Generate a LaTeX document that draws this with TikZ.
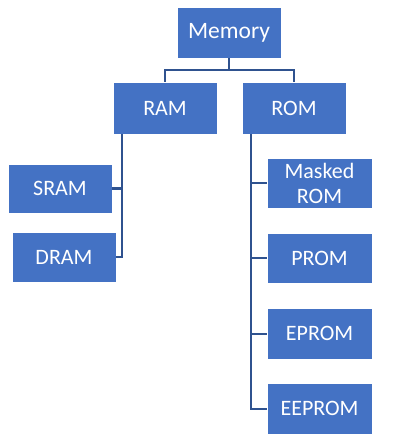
\documentclass[tikz,border=0pt]{standalone}
\usepackage{fontspec}
\setmainfont{Carlito}
\usetikzlibrary{positioning,calc}
\definecolor{boxblue}{RGB}{68,114,196}
\definecolor{lineblue}{RGB}{47,82,143}

\tikzset{
  membox/.style={
    draw=white, line width=0.75pt, fill=boxblue,
    text=white, inner sep=0pt, align=center,
    minimum width=104pt, minimum height=51pt,
    font=\fontsize{22}{25}\selectfont
  },
  tree/.style={draw=lineblue, line width=2pt}
}

\begin{document}
\begin{tikzpicture}[x=1pt,y=-1pt]

% Canvas
\useasboundingbox (0,0) rectangle (400,438);

% Top level
\node[membox, font=\fontsize{23.5}{27}\selectfont] (mem) at (229,32.5) {Memory};

% Second level
\node[membox, minimum height=52pt] (ram) at (165,108) {RAM};
\node[membox, minimum height=52pt] (rom) at (294,108) {ROM};

% RAM children
\node[membox, minimum height=49pt] (sram) at (60,188.5) {SRAM};
\node[membox, minimum height=50pt] (dram) at (64,257) {DRAM};

% ROM children
\node[membox, minimum width=105pt, minimum height=50pt] (mrom) at (319.5,183) {Masked\\ROM};
\node[membox, minimum width=105pt, minimum height=50pt] (prom) at (319.5,258) {PROM};
\node[membox, minimum width=105pt, minimum height=51pt] (eprom) at (319.5,333.5) {EPROM};
\node[membox, minimum width=105pt, minimum height=51pt] (eeprom) at (319.5,408.5) {EEPROM};

% Connectors from the top
\draw[tree] (mem.south) -- ++(0,12) -| (ram.north);
\draw[tree] (mem.south) -- ++(0,12) -| (rom.north);

% Trunks
\coordinate (ramtrunk) at ($(ram.south west)+(9,0)$);
\coordinate (romtrunk) at ($(rom.south west)+(9,0)$);

\foreach \child in {sram,dram} {
  \draw[tree] (ramtrunk) |- (\child.east);
}
\foreach \child in {mrom,prom,eprom,eeprom} {
  \draw[tree] (romtrunk) |- (\child.west);
}

\end{tikzpicture}
\end{document}
